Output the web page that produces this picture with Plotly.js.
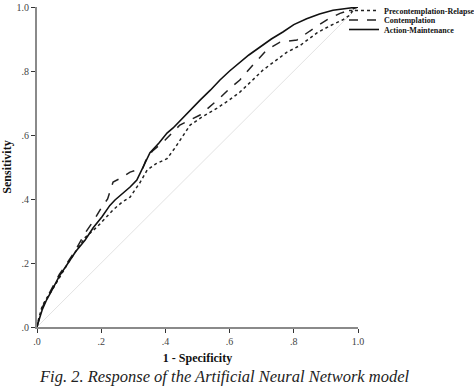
<!DOCTYPE html>
<html>
<head>
<meta charset="utf-8">
<script src="https://cdn.plot.ly/plotly-3.0.1.min.js"></script>
<style>html,body{margin:0;padding:0;background:#fff;}#chart{width:474px;height:390px;}</style>
</head>
<body>
<div id="chart"></div>
<script>
// ROC curves
const actionX = [0, 0.003, 0.016, 0.03, 0.047, 0.07, 0.097, 0.12, 0.15, 0.175, 0.202, 0.227, 0.243, 0.27, 0.29, 0.311, 0.33, 0.352, 0.38, 0.405, 0.424, 0.46, 0.508, 0.54, 0.57, 0.60, 0.632, 0.66, 0.695, 0.73, 0.766, 0.80, 0.84, 0.88, 0.922, 0.96, 1.0];
const actionY = [0, 0.012, 0.053, 0.085, 0.116, 0.16, 0.2, 0.235, 0.272, 0.31, 0.344, 0.38, 0.397, 0.42, 0.4375, 0.459, 0.50, 0.545, 0.575, 0.606, 0.622, 0.66, 0.709, 0.74, 0.772, 0.80, 0.828, 0.85, 0.875, 0.90, 0.922, 0.945, 0.963, 0.978, 0.99, 0.995, 1.0];

const contX = [0, 0.005, 0.016, 0.03, 0.047, 0.07, 0.097, 0.12, 0.15, 0.175, 0.202, 0.22, 0.237, 0.26, 0.29, 0.31, 0.33, 0.343, 0.36, 0.40, 0.445, 0.508, 0.54, 0.57, 0.60, 0.632, 0.673, 0.716, 0.757, 0.81, 0.85, 0.903, 0.944, 0.97, 1.0];
const contY = [0, 0.02, 0.06, 0.09, 0.12, 0.165, 0.205, 0.24, 0.294, 0.33, 0.375, 0.40, 0.453, 0.465, 0.484, 0.49, 0.497, 0.531, 0.55, 0.585, 0.631, 0.6625, 0.69, 0.716, 0.745, 0.772, 0.819, 0.866, 0.89, 0.897, 0.925, 0.96, 0.98, 0.99, 1.0];

const precX = [0, 0.005, 0.016, 0.03, 0.047, 0.07, 0.097, 0.12, 0.15, 0.187, 0.227, 0.237, 0.265, 0.29, 0.32, 0.343, 0.37, 0.405, 0.43, 0.477, 0.52, 0.561, 0.60, 0.632, 0.67, 0.704, 0.74, 0.779, 0.82, 0.872, 0.91, 0.953, 0.975, 0.99, 1.0];
const precY = [0, 0.025, 0.065, 0.09, 0.115, 0.155, 0.2, 0.235, 0.28, 0.3125, 0.356, 0.366, 0.39, 0.406, 0.45, 0.49, 0.51, 0.526, 0.56, 0.631, 0.66, 0.684, 0.71, 0.734, 0.77, 0.803, 0.83, 0.859, 0.88, 0.919, 0.94, 0.96, 0.975, 1.0, 1.0];

const refX = [0, 1];
const refY = [0, 1];

const tickVals = [0, 0.2, 0.4, 0.6, 0.8, 1.0];
const tickText = ['.0', '.2', '.4', '.6', '.8', '1.0'];

const seriesNames = ['Precontemplation-Relapse', 'Contemplation', 'Action-Maintenance'];

const serif = 'Liberation Serif, Times New Roman, serif';

const traces = [
  {x: refX, y: refY, mode: 'lines', line: {color: '#e2e2e2', width: 1}, showlegend: false, hoverinfo: 'skip'},
  {x: precX, y: precY, mode: 'lines', name: seriesNames[0], legend: 'legend', line: {color: '#222', width: 1.5, dash: 'dot'}},
  {x: contX, y: contY, mode: 'lines', name: seriesNames[1], legend: 'legend2', line: {color: '#222', width: 1.5, dash: 'dash'}},
  {x: actionX, y: actionY, mode: 'lines', name: seriesNames[2], legend: 'legend3', line: {color: '#111', width: 1.6}}
];

const axisCommon = {
  range: [0, 1],
  tickvals: tickVals,
  ticktext: tickText,
  ticks: 'outside',
  ticklen: 4,
  tickcolor: '#333',
  tickwidth: 1,
  showline: true,
  linecolor: '#8a8a8a',
  linewidth: 2,
  showgrid: false,
  zeroline: false,
  tickfont: {family: serif, size: 10, color: '#444'},
  automargin: false
};

// legend boxes placed by pixel top (plot area top = 7px, height = 320px)
function legendAt(yTop) {
  return {
    xref: 'container', yref: 'paper',
    x: 344 / 474, xanchor: 'left',
    y: 1 - (yTop - 7) / 320, yanchor: 'top',
    font: {family: serif, size: 8, color: '#111', weight: 'bold'},
    bgcolor: 'rgba(0,0,0,0)',
    itemwidth: 30
  };
}

const layout = {
  width: 474,
  height: 390,
  margin: {l: 37, r: 116, t: 7, b: 63, autoexpand: false},
  paper_bgcolor: '#fff',
  plot_bgcolor: '#fff',
  xaxis: Object.assign({}, axisCommon, {
    title: {text: '1 - Specificity', font: {family: serif, size: 12, color: '#111', weight: 'bold'}, standoff: 8}
  }),
  yaxis: Object.assign({}, axisCommon, {
    title: {text: 'Sensitivity', font: {family: serif, size: 12, color: '#111', weight: 'bold'}, standoff: 6}
  }),
  legend: legendAt(-4),
  legend2: legendAt(5.5),
  legend3: legendAt(15),
  annotations: [{
    xref: 'paper', yref: 'paper', x: 0, y: -0.19, xanchor: 'left', yanchor: 'bottom',
    text: '<i>Fig. 2. Response of the Artificial Neural Network model</i>',
    showarrow: false,
    font: {family: serif, size: 16.5, color: '#222'}
  }]
};

Plotly.newPlot('chart', traces, layout, {displayModeBar: false, staticPlot: true});
</script>
</body>
</html>
